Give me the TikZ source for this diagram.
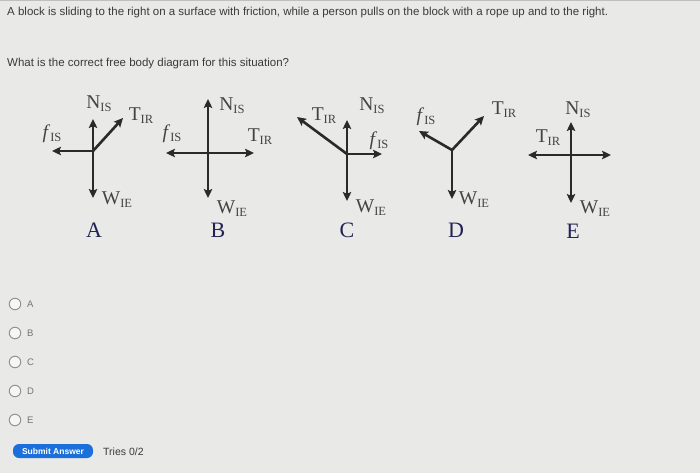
\documentclass[tikz,border=0pt]{standalone}
\usepackage{fontspec}
\setmainfont{Liberation Serif}
\setsansfont{Liberation Sans}
\usetikzlibrary{arrows.meta}
\definecolor{bg}{HTML}{E9E9E7}
\definecolor{txt}{HTML}{3A3A3A}
\definecolor{ink}{HTML}{2A2A2A}
\definecolor{lbl}{HTML}{444444}
\definecolor{btn}{HTML}{1A6FDB}
\newcommand\fsb[1]{\raisebox{-3pt}{\fontsize{12.5}{13}\selectfont #1}}
\tikzset{
  force/.style={draw=ink, line width=2.6pt, -{Stealth[length=9pt,width=8.5pt,inset=1.8pt]}},
  flabel/.style={font=\fontsize{19.5}{20}\selectfont, text=lbl, inner sep=0pt},
  letter/.style={font=\fontsize{22}{22}\selectfont, text=ink!80!blue, inner sep=0pt},
  qtext/.style={font=\sffamily\fontsize{11.5}{13}\selectfont, text=txt, anchor=west, inner sep=0pt},
  radio/.style={circle, draw=gray!85, line width=1pt, fill=white!60!bg, minimum size=11.5pt, inner sep=0pt},
  rtext/.style={font=\sffamily\fontsize{9.5}{11}\selectfont, text=gray!90!black, anchor=west, inner sep=0pt},
}
\begin{document}
\begin{tikzpicture}[x=1pt,y=-1pt]
\fill[bg] (0,0) rectangle (700,473);
\useasboundingbox (0,0) rectangle (700,473);
\fill[gray!40!bg] (0,0) rectangle (700,1.5);
% question text
\node[qtext] (q1) at (7,13) {A block is sliding to the right on a surface with friction, while a person pulls on the block with a rope up and to the right.};
\node[qtext] (q2) at (7,64) {What is the correct free body diagram for this situation?};

% ---------- A ----------
\coordinate (A0) at (93,151);
\coordinate (An) at (93,119);
\coordinate (Aw) at (93,198);
\coordinate (Af) at (52,151);
\coordinate (At) at (123,118);
\draw[force] (A0) -- (An);
\draw[force] (A0) -- (Aw);
\draw[force] (A0) -- (Af);
\draw[force] (A0) -- (At);
\node[flabel] (AnL) at (99,104) {N\fsb{IS}};
\node[flabel] (AtL) at (141,116) {T\fsb{IR}};
\node[flabel] (AfL) at (52,134) {\textit{f}\fsb{IS}};
\node[flabel] (AwL) at (117,200) {W\fsb{IE}};
\node[letter] (AL) at (94,230) {A};

% ---------- B ----------
\coordinate (B0) at (208,153);
\coordinate (Bn) at (208,99);
\coordinate (Bw) at (208,198);
\coordinate (Bf) at (166,153);
\coordinate (Bt) at (254,153);
\draw[force] (B0) -- (Bn);
\draw[force] (B0) -- (Bw);
\draw[force] (B0) -- (Bf);
\draw[force] (B0) -- (Bt);
\node[flabel] (BnL) at (232,106) {N\fsb{IS}};
\node[flabel] (BtL) at (260,137) {T\fsb{IR}};
\node[flabel] (BfL) at (172,134) {\textit{f}\fsb{IS}};
\node[flabel] (BwL) at (232,209) {W\fsb{IE}};
\node[letter] (BL) at (218,230) {B};

% ---------- C ----------
\coordinate (C0) at (347,154);
\coordinate (Cn) at (347,120);
\coordinate (Cw) at (347,201);
\coordinate (Cf) at (382,154);
\coordinate (Ct) at (297,117);
\draw[force] (C0) -- (Cn);
\draw[force] (C0) -- (Cw);
\draw[force] (C0) -- (Cf);
\draw[force] (C0) -- (Ct);
\node[flabel] (CnL) at (372,106) {N\fsb{IS}};
\node[flabel] (CtL) at (324,116) {T\fsb{IR}};
\node[flabel] (CfL) at (379,141) {\textit{f}\fsb{IS}};
\node[flabel] (CwL) at (371,208) {W\fsb{IE}};
\node[letter] (CL) at (347,230) {C};

% ---------- D ----------
\coordinate (D0) at (452,150);
\coordinate (Dw) at (452,199);
\coordinate (Df) at (419,131);
\coordinate (Dt) at (484,116);
\draw[force] (D0) -- (Dw);
\draw[force] (D0) -- (Df);
\draw[force] (D0) -- (Dt);
\node[flabel] (DfL) at (426,117) {\textit{f}\fsb{IS}};
\node[flabel] (DtL) at (504,110) {T\fsb{IR}};
\node[flabel] (DwL) at (474,200) {W\fsb{IE}};
\node[letter] (DL) at (456,230) {D};

% ---------- E ----------
\coordinate (E0) at (571,155);
\coordinate (En) at (571,122);
\coordinate (Ew) at (571,203);
\coordinate (El) at (528,155);
\coordinate (Er) at (611,155);
\draw[force] (E0) -- (En);
\draw[force] (E0) -- (Ew);
\draw[force] (E0) -- (El);
\draw[force] (E0) -- (Er);
\node[flabel] (EnL) at (578,110) {N\fsb{IS}};
\node[flabel] (EtL) at (548,138) {T\fsb{IR}};
\node[flabel] (EwL) at (595,209) {W\fsb{IE}};
\node[letter] (EL) at (573,231) {E};

% ---------- options ----------
\node[radio] (rA) at (15,304) {};
\node[radio] (rB) at (15,333) {};
\node[radio] (rC) at (15,362) {};
\node[radio] (rD) at (15,391) {};
\node[radio] (rE) at (15,420) {};
\node[rtext] (tA) at (27,304) {A};
\node[rtext] (tB) at (27,333) {B};
\node[rtext] (tC) at (27,362) {C};
\node[rtext] (tD) at (27,391) {D};
\node[rtext] (tE) at (27,420) {E};

\node[fill=btn, rounded corners=6pt, minimum width=80pt, minimum height=14pt, inner sep=0pt,
      text=white, font=\sffamily\bfseries\fontsize{8.5}{9}\selectfont] (submit) at (53,451) {Submit Answer};
\node[font=\sffamily\fontsize{10.5}{11}\selectfont, text=txt, anchor=west, inner sep=0pt] (tries) at (103,452) {Tries 0/2};
\end{tikzpicture}
\end{document}
